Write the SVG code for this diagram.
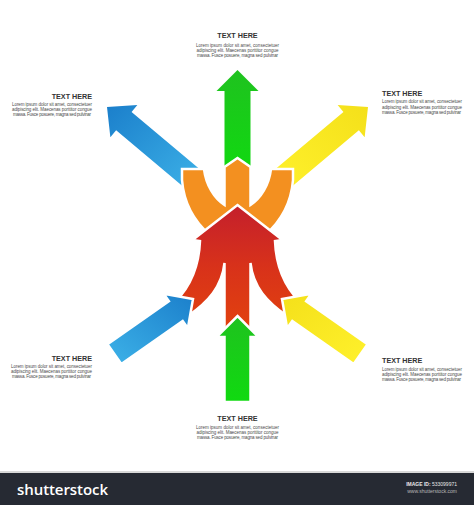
<svg xmlns="http://www.w3.org/2000/svg" width="474" height="505" viewBox="0 0 474 505">
<defs>
<style>
.t{font-family:"Liberation Sans",Arial,sans-serif;font-weight:bold;font-size:7.2px;fill:#333}
.b{font-family:"Liberation Sans",Arial,sans-serif;font-size:4.5px;fill:#4a4a4a}
.ws{stroke:#fff;stroke-width:2.5;stroke-linejoin:miter}
</style>
<linearGradient id="gBlueUp" x1="0" y1="0" x2="1" y2="1"><stop offset="0" stop-color="#1b7fcb"/><stop offset="1" stop-color="#3db2e8"/></linearGradient>
<linearGradient id="gBlueDn" x1="1" y1="0" x2="0" y2="1"><stop offset="0" stop-color="#1b7fcb"/><stop offset="1" stop-color="#3db2e8"/></linearGradient>
<linearGradient id="gYelUp" x1="1" y1="0" x2="0" y2="1"><stop offset="0" stop-color="#f4e01a"/><stop offset="1" stop-color="#fff12c"/></linearGradient>
<linearGradient id="gYelDn" x1="0" y1="0" x2="1" y2="1"><stop offset="0" stop-color="#f4e01a"/><stop offset="1" stop-color="#fff12c"/></linearGradient>
<linearGradient id="gGreen" x1="0" y1="0" x2="0" y2="1"><stop offset="0" stop-color="#1fc21f"/><stop offset="1" stop-color="#10da10"/></linearGradient>
<linearGradient id="gRed" x1="0" y1="0" x2="0" y2="1"><stop offset="0" stop-color="#c41f2c"/><stop offset="0.5" stop-color="#d8321a"/><stop offset="1" stop-color="#e2420e"/></linearGradient>
</defs>
<rect width="474" height="505" fill="#fff"/>

<g id="arrow-up-left"><polygon fill="url(#gBlueUp)" points="107,107 137.35,105.07 131.57,111.96 200.7,170 187.2,190 116.13,130.34 110.35,137.24"/></g>
<g id="arrow-up-right"><polygon fill="url(#gYelUp)" points="368,107 337.65,105.07 343.43,111.96 274.3,170 287.8,190 358.87,130.34 364.65,137.24"/></g>
<g id="arrow-up"><polygon fill="url(#gGreen)" points="237.5,70 258.5,91 250.5,91 250.5,176 224.5,176 224.5,91 216.5,91"/></g>

<g id="orange-fork"><path class="ws" fill="#f39020" d="M182,169 L204,169 C206,185 214,198 224.5,205 L224.5,167 L237.5,158 L250.5,167 L250.5,205 C261,198 269,185 271,169 L293,169 L293,180 C291,205 280,222 265,235 L237.5,250 L210,235 C195,222 184,205 182,180 Z"/></g>

<g id="red-fork"><path class="ws" fill="url(#gRed)" d="M237.5,205 L282.5,240 L275,241 C276,268 285,287 300,302 L287,316 C267,302 253,287 250.5,263 L250.5,330 L224.5,330 L224.5,263 C222,287 208,302 188,316 L175,302 C190,287 199,268 200,241 L192.5,240 Z"/></g>

<g id="arrow-in-left"><polygon class="ws" fill="url(#gBlueDn)" points="193,299 187.85,328.25 182.69,320.88 121.3,363.9 107.5,344.3 168.91,301.22 163.75,293.85"/></g>
<g id="arrow-in-right"><polygon class="ws" fill="url(#gYelDn)" points="282,299 287.15,328.25 292.31,320.88 353.7,363.9 367.5,344.3 306.09,301.22 311.25,293.85"/></g>
<g id="arrow-in-bottom"><polygon class="ws" fill="url(#gGreen)" points="237.5,316 258.5,337 250.5,337 250.5,402 224.5,402 224.5,337 216.5,337"/></g>

<g id="text-top">
<text class="t" x="237.5" y="38" text-anchor="middle">TEXT HERE</text>
<text class="b" x="237.5" y="46.5" text-anchor="middle" textLength="83">Lorem ipsum dolor sit amet, consectetuer</text>
<text class="b" x="237.5" y="51.5" text-anchor="middle" textLength="82">adipiscing elit. Maecenas porttitor congue</text>
<text class="b" x="237.5" y="56.5" text-anchor="middle" textLength="81">massa. Fusce posuere, magna sed pulvinar</text>
</g>
<g id="text-left-top">
<text class="t" x="92" y="98.5" text-anchor="end">TEXT HERE</text>
<text class="b" x="92" y="105.5" text-anchor="end" textLength="80">Lorem ipsum dolor sit amet, consectetuer</text>
<text class="b" x="92" y="110.5" text-anchor="end" textLength="80">adipiscing elit. Maecenas porttitor congue</text>
<text class="b" x="91" y="115.5" text-anchor="end" textLength="78">massa. Fusce posuere, magna sed pulvinar</text>
</g>
<g id="text-right-top">
<text class="t" x="382" y="96" text-anchor="start">TEXT HERE</text>
<text class="b" x="382" y="103" textLength="80">Lorem ipsum dolor sit amet, consectetuer</text>
<text class="b" x="382" y="108.5" textLength="80">adipiscing elit. Maecenas porttitor congue</text>
<text class="b" x="382" y="114" textLength="79">massa. Fusce posuere, magna sed pulvinar</text>
</g>
<g id="text-left-bottom">
<text class="t" x="92" y="360.5" text-anchor="end">TEXT HERE</text>
<text class="b" x="92" y="368" text-anchor="end" textLength="81">Lorem ipsum dolor sit amet, consectetuer</text>
<text class="b" x="92" y="373" text-anchor="end" textLength="81">adipiscing elit. Maecenas porttitor congue</text>
<text class="b" x="91" y="378" text-anchor="end" textLength="79">massa. Fusce posuere, magna sed pulvinar</text>
</g>
<g id="text-right-bottom">
<text class="t" x="382" y="363">TEXT HERE</text>
<text class="b" x="382" y="370.5" textLength="80">Lorem ipsum dolor sit amet, consectetuer</text>
<text class="b" x="382" y="375.5" textLength="80">adipiscing elit. Maecenas porttitor congue</text>
<text class="b" x="382" y="380.5" textLength="79">massa. Fusce posuere, magna sed pulvinar</text>
</g>
<g id="text-bottom">
<text class="t" x="237.5" y="420.5" text-anchor="middle">TEXT HERE</text>
<text class="b" x="237.5" y="428.5" text-anchor="middle" textLength="83">Lorem ipsum dolor sit amet, consectetuer</text>
<text class="b" x="237.5" y="433.5" text-anchor="middle" textLength="82">adipiscing elit. Maecenas porttitor congue</text>
<text class="b" x="237.5" y="438.5" text-anchor="middle" textLength="81">massa. Fusce posuere, magna sed pulvinar</text>
</g>

<g id="footer">
<rect x="0" y="471" width="474" height="2" fill="#d8d8d8"/>
<rect x="0" y="473" width="474" height="32" fill="#262a33"/>
<text x="17" y="495" font-family="'Open Sans','Liberation Sans',sans-serif" font-size="15" font-weight="600" fill="#fff" textLength="91">shutterstock</text>
<text x="457" y="486" text-anchor="end" font-family="'Liberation Sans',sans-serif" font-size="5" fill="#e8e8e8"><tspan font-weight="bold">IMAGE ID:</tspan> 533099971</text>
<text x="457" y="493" text-anchor="end" font-family="'Liberation Sans',sans-serif" font-size="5" fill="#b8b8b8">www.shutterstock.com</text>
</g>
</svg>
